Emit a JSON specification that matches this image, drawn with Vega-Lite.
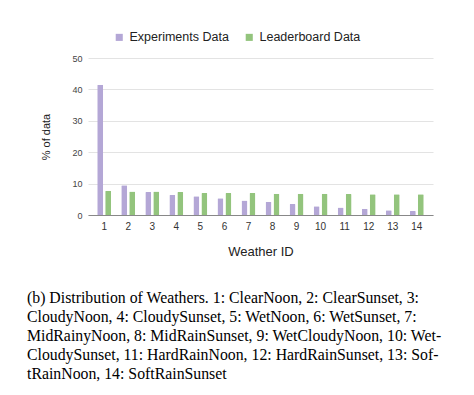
{
  "$schema": "https://vega.github.io/schema/vega-lite/v6.json",
  "autosize": "none",
  "width": 345,
  "height": 157,
  "padding": {"left": 88, "top": 58, "right": 41, "bottom": 180},
  "background": "white",
  "title": {
    "text": [
      "(b) Distribution of Weathers. 1: ClearNoon, 2: ClearSunset, 3:",
      "CloudyNoon, 4: CloudySunset, 5: WetNoon, 6: WetSunset, 7:",
      "MidRainyNoon, 8: MidRainSunset, 9: WetCloudyNoon, 10: Wet-",
      "CloudySunset, 11: HardRainNoon, 12: HardRainSunset, 13: Sof-",
      "tRainNoon, 14: SoftRainSunset"
    ],
    "orient": "bottom",
    "anchor": "start",
    "frame": "group",
    "dx": -61,
    "offset": 33,
    "font": "Liberation Serif",
    "fontSize": 15.8,
    "fontWeight": "normal",
    "color": "#000000",
    "lineHeight": 18.9,
    "baseline": "top"
  },
  "data": {
    "values": [
      {"id": 1, "series": "Experiments Data", "value": 41.5},
      {"id": 1, "series": "Leaderboard Data", "value": 7.7},
      {"id": 2, "series": "Experiments Data", "value": 9.5},
      {"id": 2, "series": "Leaderboard Data", "value": 7.5},
      {"id": 3, "series": "Experiments Data", "value": 7.3},
      {"id": 3, "series": "Leaderboard Data", "value": 7.5},
      {"id": 4, "series": "Experiments Data", "value": 6.4},
      {"id": 4, "series": "Leaderboard Data", "value": 7.3},
      {"id": 5, "series": "Experiments Data", "value": 6.0},
      {"id": 5, "series": "Leaderboard Data", "value": 7.0},
      {"id": 6, "series": "Experiments Data", "value": 5.3},
      {"id": 6, "series": "Leaderboard Data", "value": 7.0},
      {"id": 7, "series": "Experiments Data", "value": 4.6},
      {"id": 7, "series": "Leaderboard Data", "value": 7.0},
      {"id": 8, "series": "Experiments Data", "value": 4.2},
      {"id": 8, "series": "Leaderboard Data", "value": 6.8},
      {"id": 9, "series": "Experiments Data", "value": 3.5},
      {"id": 9, "series": "Leaderboard Data", "value": 6.8},
      {"id": 10, "series": "Experiments Data", "value": 2.8},
      {"id": 10, "series": "Leaderboard Data", "value": 6.8},
      {"id": 11, "series": "Experiments Data", "value": 2.4},
      {"id": 11, "series": "Leaderboard Data", "value": 6.7},
      {"id": 12, "series": "Experiments Data", "value": 2.0},
      {"id": 12, "series": "Leaderboard Data", "value": 6.6},
      {"id": 13, "series": "Experiments Data", "value": 1.5},
      {"id": 13, "series": "Leaderboard Data", "value": 6.6},
      {"id": 14, "series": "Experiments Data", "value": 1.3},
      {"id": 14, "series": "Leaderboard Data", "value": 6.6}
    ]
  },
  "mark": {"type": "bar", "cornerRadiusTopLeft": 1, "cornerRadiusTopRight": 1},
  "encoding": {
    "x": {
      "field": "id",
      "type": "ordinal",
      "scale": {"paddingInner": 0.42, "paddingOuter": 0.383},
      "axis": {
        "title": "Weather ID",
        "labelAngle": 0,
        "ticks": false,
        "labelPadding": 6,
        "labelFont": "Liberation Sans",
        "labelFontSize": 10,
        "labelColor": "#333333",
        "titleFont": "Liberation Sans",
        "titleFontSize": 13,
        "titleFontWeight": "normal",
        "titleColor": "#222222",
        "titlePadding": 14,
        "domainColor": "#888888",
        "domainWidth": 1.2,
        "grid": false
      }
    },
    "xOffset": {
      "field": "series",
      "type": "nominal",
      "scale": {"paddingInner": 0.25}
    },
    "y": {
      "field": "value",
      "type": "quantitative",
      "scale": {"domain": [0, 50]},
      "axis": {
        "title": "% of data",
        "values": [0, 10, 20, 30, 40, 50],
        "ticks": false,
        "domain": false,
        "labelPadding": 6,
        "labelFont": "Liberation Sans",
        "labelFontSize": 9,
        "labelColor": "#444444",
        "titleFont": "Liberation Sans",
        "titleFontSize": 11,
        "titleFontWeight": "normal",
        "titleColor": "#222222",
        "titlePadding": 20,
        "gridColor": "#e3e3e3",
        "gridWidth": 1
      }
    },
    "color": {
      "field": "series",
      "type": "nominal",
      "scale": {
        "domain": ["Experiments Data", "Leaderboard Data"],
        "range": ["#b4a7d6", "#93c47d"]
      },
      "legend": {
        "title": null,
        "orient": "none",
        "direction": "horizontal",
        "legendX": 25,
        "legendY": -27,
        "symbolType": "square",
        "symbolSize": 50,
        "symbolStrokeWidth": 0,
        "labelFont": "Liberation Sans",
        "labelFontSize": 12.5,
        "labelColor": "#222222",
        "labelOffset": 4,
        "columnPadding": 14
      }
    }
  },
  "config": {
    "view": {"stroke": null}
  }
}
